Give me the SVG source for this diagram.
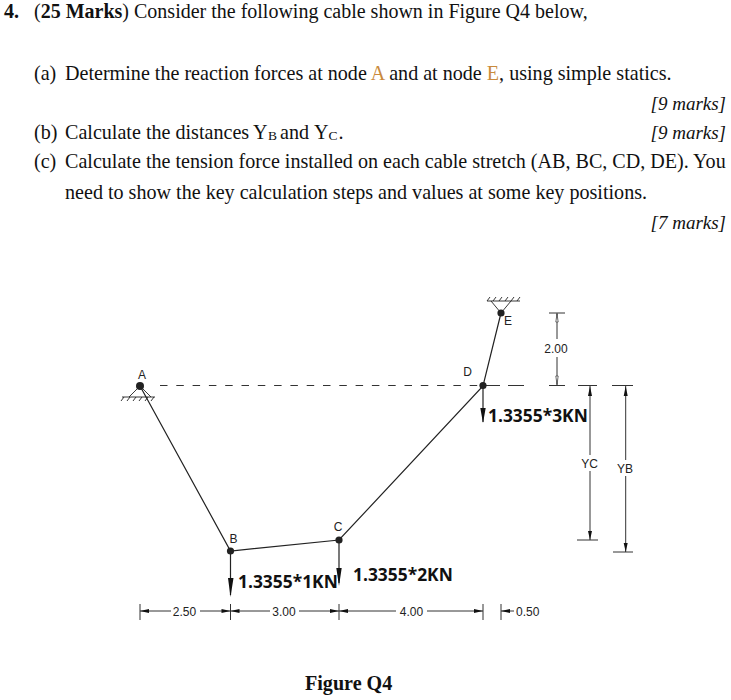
<svg xmlns="http://www.w3.org/2000/svg" width="731" height="700" viewBox="0 0 731 700">
<style>
.t{font-family:"Liberation Serif","Times New Roman",serif;font-size:20.1px;fill:#111}
.t0{font-family:"Liberation Serif","Times New Roman",serif;font-size:20px;fill:#111}
.s{font-family:"Liberation Serif","Times New Roman",serif;font-size:13.500px;fill:#111}
.m{font-family:"Liberation Serif","Times New Roman",serif;font-size:19px;font-style:italic;fill:#111}
.b{font-weight:bold}
.l{font-family:"Liberation Sans",Arial,sans-serif;font-size:12px;fill:#222}
.f{font-family:"Open Sans","Noto Sans",sans-serif;font-size:17.400px;font-weight:bold;fill:#111}
.c{fill:none;stroke:#222;stroke-width:1.2}
.d{fill:none;stroke:#333;stroke-width:1}
.h{fill:none;stroke:#222;stroke-width:.9}
</style>
<rect width="731" height="700" fill="#fff"/>
<g id="question">
<text class="t b" x="4" y="18">4.</text>
<text class="t0" x="34" y="18">(<tspan class="b">25 Marks</tspan>) Consider the following cable shown in Figure Q4 below,</text>
<text class="t" x="34" y="79.500">(a)</text>
<text class="t" x="65" y="79.500">Determine the reaction forces at node <tspan fill="#c98a3c">A</tspan> and at node <tspan fill="#c98a3c">E</tspan>, using simple statics.</text>
<text class="m" x="726" y="110" text-anchor="end">[9 marks]</text>
<text class="t" x="34" y="138.500">(b)</text>
<text class="t" x="65" y="138.500">Calculate the distances</text>
<text class="t" x="253" y="138.500">Y</text>
<text class="s" x="268" y="140">B</text>
<text class="t" x="280" y="138.500">and</text>
<text class="t" x="314" y="138.500">Y</text>
<text class="s" x="328.500" y="140">C</text>
<text class="t" x="338.500" y="138.500">.</text>
<text class="m" x="726" y="139" text-anchor="end">[9 marks]</text>
<text class="t" x="34" y="168">(c)</text>
<text class="t" x="65" y="168">Calculate the tension force installed on each cable stretch (AB, BC, CD, DE). You</text>
<text class="t" x="65" y="198.500">need to show the key calculation steps and values at some key positions.</text>
<text class="m" x="726" y="229" text-anchor="end">[7 marks]</text>
</g>
<g id="connectors">
<path class="c" d="M140 386L230.500 551L339 540L483 386L501 313"/>
<path class="d" stroke-dasharray="7.500 8.800" d="M160 385.500H480"/>
<path class="d" stroke-dasharray="16 8" d="M484 385.500H531"/>
<path class="c" d="M230.500 551V595M339 540V583M483 386V422"/>
<path d="M228 578H233.500L230.500 597Z M336.300 568H341.700L339 586Z M480.300 408H485.700L483 423Z" fill="#111"/>
</g>
<g id="node-A"><circle cx="140" cy="386" r="4" fill="#222"/><path class="h" d="M122 397H155M140 386L129 397M140 386L151 397M121 401L124 397M127 401L130 397M133 401L136 397M139 401L142 397M145 401L148 397M151 401L154 397"/><text class="l" x="142" y="378.500" text-anchor="middle">A</text></g>
<g id="node-B"><circle cx="230.500" cy="551" r="3.600" fill="#222"/><text class="l" x="233.500" y="543" text-anchor="middle">B</text></g>
<g id="node-C"><circle cx="339" cy="540" r="3.600" fill="#222"/><text class="l" x="338" y="531" text-anchor="middle">C</text></g>
<g id="node-D"><circle cx="483" cy="385.500" r="3.600" fill="#222"/><text class="l" x="467.500" y="375.500" text-anchor="middle">D</text></g>
<g id="node-E"><circle cx="501" cy="313" r="3.600" fill="#222"/><path class="h" d="M487 301H520M501 313L491 301M501 313L511 301M487 301L490 297M493 301L496 297M499 301L502 297M505 301L508 297M511 301L514 297M517 301L520 297"/><text class="l" x="508" y="324.500" text-anchor="middle">E</text></g>
<g id="loads">
<text class="f" x="238" y="588">1.3355*1KN</text>
<text class="f" x="353" y="581">1.3355*2KN</text>
<text class="f" x="488" y="421.500">1.3355*3KN</text>
</g>
<g id="dimensions">
<path class="d" d="M549 313H565M557 313V339M557 357V385M549 385.500H565"/>
<path d="M555.800 322L557 314L558.200 322ZM555.800 376L557 384.500L558.200 376Z" fill="#fff" stroke="#333" stroke-width=".7"/>
<text class="l" x="556" y="352.500" text-anchor="middle">2.00</text>
<path class="d" d="M578 385.500H597M590 386V455M590 471V540M577 540H598"/>
<path class="d" d="M612 385.500H633M625.700 386V460M625.700 476V552M613 552H633"/>
<path d="M588 396L590 386L592 396ZM623.700 396L625.700 386L627.700 396ZM588 531L590 540L592 531ZM623.700 543L625.700 552L627.700 543Z" fill="#111"/>
<text class="l" x="589.500" y="467.500" text-anchor="middle">YC</text>
<text class="l" x="625" y="473" text-anchor="middle">YB</text>
<path class="d" d="M140 604V620M230.500 604V620M339 604V620M483 604V620M501 604V620M140 611H171M200 611H230M230 611H270M299 611H339M339 611H396M427 611H483M501 611H514"/>
<path d="M140 611L149 609V613ZM230.500 611L221.500 609V613ZM230.500 611L239.500 609V613ZM339 611L330 609V613ZM339 611L348 609V613ZM483 611L474 609V613ZM501 611L510 609V613Z" fill="#111"/>
<text class="l" x="184.500" y="615.500" text-anchor="middle">2.50</text>
<text class="l" x="284" y="615.500" text-anchor="middle">3.00</text>
<text class="l" x="411.500" y="615.500" text-anchor="middle">4.00</text>
<text class="l" x="516" y="615.500">0.50</text>
</g>
<g id="caption"><text class="t b" x="305" y="690">Figure Q4</text></g>
</svg>
